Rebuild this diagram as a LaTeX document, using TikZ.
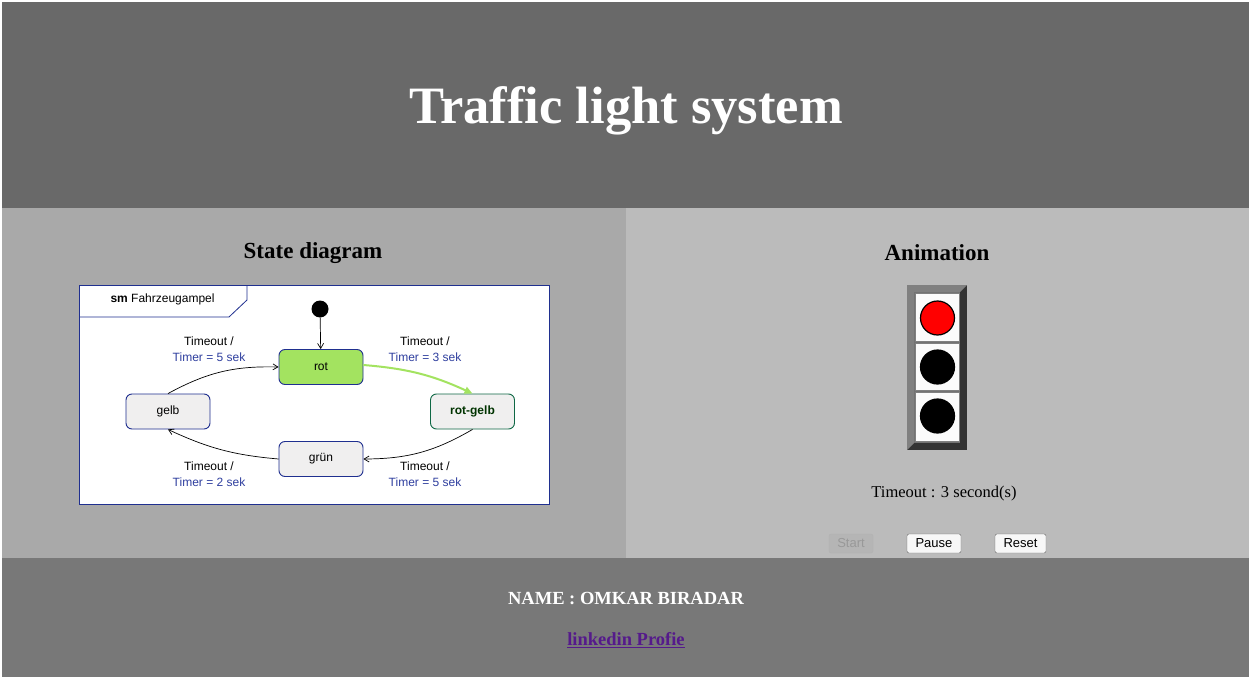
\documentclass[tikz,border=0pt]{standalone}
\usepackage{fontspec}
\setmainfont{Liberation Serif}
\newfontfamily\arial{Liberation Sans}
\usetikzlibrary{arrows.meta}
\definecolor{hdr}{HTML}{696969}
\definecolor{lpan}{HTML}{A9A9A9}
\definecolor{rpan}{HTML}{BBBBBB}
\definecolor{ftr}{HTML}{787878}
\definecolor{navy}{HTML}{1F2F8F}
\definecolor{lblue}{HTML}{2F3F9F}
\definecolor{sgreen}{HTML}{A3E360}
\definecolor{sgray}{HTML}{F0EFEF}
\definecolor{visited}{HTML}{551A8B}
\tikzset{
  state/.style={draw=navy, line width=0.9pt, rounded corners=6pt, minimum width=84pt, minimum height=35pt, font=\arial\fontsize{12}{14}\selectfont, fill=sgray, inner sep=0pt},
  lbl/.style={font=\arial\fontsize{12}{16}\selectfont, align=center},
  tr/.style={-{Straight Barb[length=5pt,width=6pt]}, line width=0.7pt},
  btn/.style={draw=gray!80!black, fill=white!94!gray, rounded corners=2pt, minimum height=19pt, inner sep=0pt, font=\arial\fontsize{13}{14}\selectfont},
  cell/.style={draw=gray, fill=white!97!gray, line width=1pt},
  lamp/.style={circle, draw=black, line width=1.2pt, minimum size=34pt, inner sep=0pt}
}
\begin{document}
\begin{tikzpicture}[x=1pt,y=-1pt]
\useasboundingbox (0,0) rectangle (1251,677);
\fill[white] (0,0) rectangle (1251,677);
\fill[hdr] (2,2) rectangle (1249,208);
\fill[lpan] (2,208) rectangle (626,558);
\fill[rpan] (626,208) rectangle (1249,558);
\fill[ftr] (2,558) rectangle (1249,677);
\node[text=white, font=\bfseries\fontsize{52.5}{58}\selectfont] (title) at (626,111) {Traffic light system};
\node[font=\bfseries\fontsize{23}{26}\selectfont] (sdt) at (313,253) {State diagram};
\node[font=\bfseries\fontsize{23}{26}\selectfont] (ant) at (937,253) {Animation};
% state machine frame
\draw[navy, fill=white, line width=0.8pt] (79,285) rectangle (549,504);
\draw[navy, line width=0.8pt] (79,317) -- (229,317) -- (247,300) -- (247,285);
\node[font=\arial\fontsize{12}{14}\selectfont, anchor=west] (sm) at (107,299) {\textbf{sm} Fahrzeugampel};
\node[circle, fill=black, minimum size=17pt, inner sep=0pt] (init) at (320,309) {};
\node[state, fill=sgreen] (rot) at (321,367) {rot};
\node[state] (gelb) at (168,411.5) {gelb};
\node[state, draw=navy!60!green!80!black] (rg) at (472.5,411.5) {\textcolor{green!20!black}{\textbf{rot-gelb}}};
\node[state] (gruen) at (321,459) {grün};
\draw[tr] (init) -- (rot);
\draw[tr, draw=sgreen, line width=2pt, -{Triangle[length=8pt,width=7pt]}] (rot.east) ++(0,-2) coordinate (s1) to[bend left=10] (rg.north);
\draw[tr] (rg.south) to[bend left=15] (gruen.east);
\draw[tr] (gruen.west) to[bend left=10] (gelb.south);
\draw[tr] (gelb.north) to[bend left=15] (rot.west);
\node[lbl] (l1) at (209,349) {Timeout /\\\textcolor{lblue}{Timer = 5 sek}};
\node[lbl] (l2) at (425,349) {Timeout /\\\textcolor{lblue}{Timer = 3 sek}};
\node[lbl] (l3) at (209,474) {Timeout /\\\textcolor{lblue}{Timer = 2 sek}};
\node[lbl] (l4) at (425,474) {Timeout /\\\textcolor{lblue}{Timer = 5 sek}};
% traffic light
\fill[black!80] (907,285) rectangle (967,450);
\fill[gray] (907,285) -- (967,285) -- (960,292) -- (914,292) -- (914,443) -- (907,450) -- cycle;
\fill[gray!90!black] (914,292) rectangle (960,443);
\draw[cell] (915.5,293.5) rectangle (959.5,341);
\draw[cell] (915.5,343) rectangle (959.5,390.5);
\draw[cell] (915.5,392.5) rectangle (959.5,441.5);
\node[lamp, fill=red] (red) at (937.5,318) {};
\node[lamp, fill=black] (yel) at (937.5,367) {};
\node[lamp, fill=black] (grn) at (937.5,416) {};
\node[font=\fontsize{16.5}{18}\selectfont] (to) at (944,494) {Timeout : 3 second(s)};
\node[btn, minimum width=44pt, draw=gray!60, fill=gray!10!rpan, text=gray!80] (start) at (851,543.5) {Start};
\node[btn, minimum width=54pt] (pause) at (934,543.5) {Pause};
\node[btn, minimum width=51pt] (reset) at (1020.5,543.5) {Reset};
\node[text=white, font=\bfseries\fontsize{18.5}{20}\selectfont] (name) at (626,599) {NAME : OMKAR BIRADAR};
\node[text=visited, font=\bfseries\fontsize{18.5}{20}\selectfont] (link) at (626,640) {\underline{linkedin Profie}};
\end{tikzpicture}
\end{document}
